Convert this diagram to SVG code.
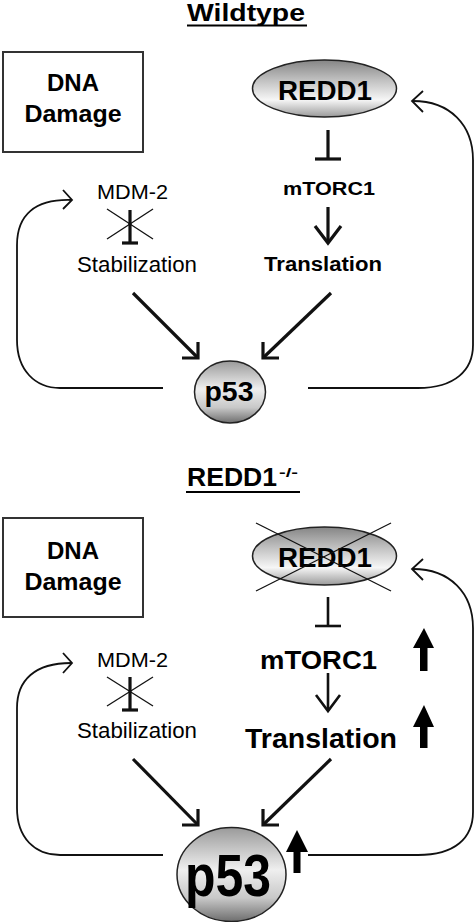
<svg xmlns="http://www.w3.org/2000/svg" width="474" height="922" viewBox="0 0 474 922">
<defs>
<linearGradient id="gEll" x1="0" y1="0" x2="0" y2="1">
<stop offset="0" stop-color="#858585"/>
<stop offset="0.35" stop-color="#c0c0c0"/>
<stop offset="0.7" stop-color="#f6f6f6"/>
<stop offset="1" stop-color="#9a9a9a"/>
</linearGradient>
<linearGradient id="gCirc" x1="0" y1="0" x2="0" y2="1">
<stop offset="0" stop-color="#9a9a9a"/>
<stop offset="0.45" stop-color="#efefef"/>
<stop offset="0.75" stop-color="#c8c8c8"/>
<stop offset="1" stop-color="#6e6e6e"/>
</linearGradient>
<style>
text{font-family:"Liberation Sans",Arial,sans-serif;fill:#000}
.b{font-weight:bold}
.box{fill:#fff;stroke:#333;stroke-width:2}
.node{stroke:#222;stroke-width:1.5}
.thin{fill:none;stroke:#111;stroke-width:1.8}
.med{fill:none;stroke:#111;stroke-width:2.6}
.thick{fill:none;stroke:#111;stroke-width:3.2}
.x{fill:none;stroke:#111;stroke-width:1.3}
.up{fill:#000}
.ul{stroke:#000;stroke-width:2.2}
</style>
</defs>

<!-- ===== WILDTYPE ===== -->
<g id="title-wt">
<text class="b" x="246" y="21" font-size="24" text-anchor="middle" textLength="118" lengthAdjust="spacingAndGlyphs">Wildtype</text>
<line class="ul" x1="187" y1="25.5" x2="307" y2="25.5"/>
</g>
<g id="wt-dna">
<rect class="box" x="3" y="52" width="140" height="100"/>
<text class="b" x="73" y="91" font-size="24" text-anchor="middle">DNA</text>
<text class="b" x="73" y="122" font-size="24" text-anchor="middle" textLength="97" lengthAdjust="spacingAndGlyphs">Damage</text>
</g>
<g id="wt-redd1">
<ellipse class="node" cx="324.5" cy="88.5" rx="72" ry="28.5" fill="url(#gEll)"/>
<text class="b" x="325" y="100" font-size="27" text-anchor="middle" textLength="94" lengthAdjust="spacingAndGlyphs">REDD1</text>
</g>
<g id="wt-mtorc1">
<text class="b" x="329" y="195" font-size="19" text-anchor="middle" textLength="92" lengthAdjust="spacingAndGlyphs">mTORC1</text>
</g>
<g id="wt-translation">
<text class="b" x="323" y="271" font-size="19.5" text-anchor="middle" textLength="118" lengthAdjust="spacingAndGlyphs">Translation</text>
</g>
<g id="wt-mdm2">
<text x="132.5" y="199" font-size="21" text-anchor="middle" textLength="71" lengthAdjust="spacingAndGlyphs">MDM-2</text>
</g>
<g id="wt-stab">
<text x="137" y="272" font-size="21.5" text-anchor="middle" textLength="120" lengthAdjust="spacingAndGlyphs">Stabilization</text>
</g>
<g id="wt-p53">
<ellipse class="node" cx="230" cy="392" rx="35.5" ry="31" fill="url(#gCirc)"/>
<text class="b" x="229" y="401" font-size="27" text-anchor="middle" textLength="49" lengthAdjust="spacingAndGlyphs">p53</text>
</g>

<g id="wt-connectors">
<line class="thick" x1="328" y1="130" x2="328" y2="159"/>
<line class="thick" x1="315" y1="159" x2="341" y2="159"/>
<line class="thick" x1="328" y1="207" x2="328" y2="242"/>
<polyline class="thick" points="315,226 328,243 341,226"/>
<line class="thick" x1="130" y1="210" x2="130" y2="243"/>
<line class="thick" x1="122" y1="243" x2="138" y2="243"/>
<line class="x" x1="107" y1="209" x2="153" y2="239"/>
<line class="x" x1="107" y1="239" x2="153" y2="209"/>
<line class="thick" x1="133" y1="293" x2="197" y2="357"/>
<polyline class="thick" points="182,358 198,358 198,342"/>
<line class="thick" x1="331" y1="293" x2="264" y2="357"/>
<polyline class="thick" points="279,358 263,358 263,342"/>
<path class="thin" d="M163 388 L60 388 C35 388 17 370 17 340 L17 245 C17 215 35 199 71 200"/>
<polyline class="thin" points="63,190 72,200 63,209"/>
<path class="thin" d="M308 388 L418 388 C455 388 473 370 473 345 L473 160 C473 125 450 101 413 101"/>
<polyline class="thin" points="423,91 412,101 423,112"/>
</g>

<!-- ===== REDD1 -/- ===== -->
<g id="title-ko">
<text class="b" x="187" y="486" font-size="25" textLength="90" lengthAdjust="spacingAndGlyphs">REDD1</text>
<text class="b" x="279" y="477" font-size="12" textLength="19" lengthAdjust="spacingAndGlyphs">-/-</text>
<line class="ul" x1="186" y1="492" x2="300" y2="492"/>
</g>
<g id="ko-dna">
<rect class="box" x="3" y="518" width="140" height="99"/>
<text class="b" x="73" y="559" font-size="24" text-anchor="middle">DNA</text>
<text class="b" x="73" y="590" font-size="24" text-anchor="middle" textLength="97" lengthAdjust="spacingAndGlyphs">Damage</text>
</g>
<g id="ko-redd1">
<ellipse class="node" cx="324.5" cy="556" rx="72" ry="29" fill="url(#gEll)"/>
<text class="b" x="325" y="567" font-size="27" text-anchor="middle" textLength="94" lengthAdjust="spacingAndGlyphs">REDD1</text>
<line class="x" x1="256" y1="523" x2="391" y2="591"/>
<line class="x" x1="256" y1="591" x2="391" y2="523"/>
</g>
<g id="ko-mtorc1">
<text class="b" x="318.5" y="669" font-size="25" text-anchor="middle" textLength="117" lengthAdjust="spacingAndGlyphs">mTORC1</text>
<polygon class="up" points="424,628 434,648 427.5,648 427.5,671 420,671 420,648 413,648"/>
</g>
<g id="ko-translation">
<text class="b" x="321" y="748" font-size="28" text-anchor="middle" textLength="152" lengthAdjust="spacingAndGlyphs">Translation</text>
<polygon class="up" points="424,705 434,727 427.5,727 427.5,748 420,748 420,727 413,727"/>
</g>
<g id="ko-mdm2">
<text x="132.5" y="667" font-size="21" text-anchor="middle" textLength="71" lengthAdjust="spacingAndGlyphs">MDM-2</text>
</g>
<g id="ko-stab">
<text x="137" y="738" font-size="21.5" text-anchor="middle" textLength="120" lengthAdjust="spacingAndGlyphs">Stabilization</text>
</g>
<g id="ko-p53">
<ellipse class="node" cx="231.5" cy="874.5" rx="54.5" ry="47" fill="url(#gCirc)"/>
<text class="b" x="228" y="896" font-size="60" text-anchor="middle" textLength="86" lengthAdjust="spacingAndGlyphs">p53</text>
<polygon class="up" points="297,830 308,852 300.5,852 300.5,873 293.5,873 293.5,852 286,852"/>
</g>

<g id="ko-connectors">
<line class="med" x1="328" y1="597" x2="328" y2="626"/>
<line class="med" x1="315" y1="626" x2="341" y2="626"/>
<line class="med" x1="328" y1="673" x2="328" y2="710"/>
<polyline class="med" points="316,695 328,711 340,695"/>
<line class="thick" x1="130" y1="677" x2="130" y2="710"/>
<line class="thick" x1="122" y1="710" x2="138" y2="710"/>
<line class="x" x1="107" y1="677" x2="153" y2="706"/>
<line class="x" x1="107" y1="706" x2="153" y2="677"/>
<line class="thick" x1="133" y1="759" x2="197" y2="824"/>
<polyline class="thick" points="182,825 198,825 198,809"/>
<line class="thick" x1="331" y1="759" x2="264" y2="824"/>
<polyline class="thick" points="279,825 263,825 263,809"/>
<path class="thin" d="M163 855 L60 855 C35 855 17 838 17 808 L17 708 C17 680 35 663 71 663"/>
<polyline class="thin" points="63,653 72,663 63,673"/>
<path class="thin" d="M308 855 L418 855 C455 855 473 838 473 812 L473 628 C473 593 450 569 413 569"/>
<polyline class="thin" points="423,559 412,569 423,580"/>
</g>
</svg>
